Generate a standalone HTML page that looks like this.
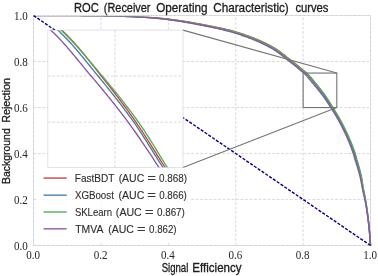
<!DOCTYPE html>
<html><head><meta charset="utf-8"><title>ROC curves</title>
<style>
html,body{margin:0;padding:0;background:#fff;}
svg{display:block;}
.s{font-family:"Liberation Sans",sans-serif;fill:#1c1c1c;stroke:#1c1c1c;stroke-width:0.32px;}
.l{fill:#2e2e2e;stroke:#2e2e2e;stroke-width:0.12px;}
.e{fill:#3a3a3a;stroke:none;}
.r{font-family:"Liberation Serif",serif;fill:#262626;}
</style></head><body>
<svg width="378" height="276" viewBox="0 0 378 276">
<rect width="378" height="276" fill="#fff"/>
<clipPath id="cm"><rect x="33.6" y="16.45" width="338.9" height="231.9"/></clipPath>
<clipPath id="ci"><rect x="47.8" y="30.1" width="135.2" height="137.5"/></clipPath>
<path d="M33.60,245.5 V15.6 M33.6,245.50 H370.5 M100.98,245.5 V15.6 M33.6,199.52 H370.5 M168.36,245.5 V15.6 M33.6,153.54 H370.5 M235.74,245.5 V15.6 M33.6,107.56 H370.5 M303.12,245.5 V15.6 M33.6,61.58 H370.5 M370.50,245.5 V15.6 M33.6,15.60 H370.5" fill="none" stroke="#d0d0d7" stroke-width="0.8" stroke-dasharray="2.8 1.7"/>
<rect x="33.6" y="15.6" width="336.9" height="229.9" fill="none" stroke="#cdcdd8" stroke-width="0.8" opacity="0.7"/>
<g clip-path="url(#cm)">
<path d="M33.60,15.60 L48.57,15.60 L55.37,15.60 L60.70,15.61 L65.26,15.62 L69.32,15.63 L73.02,15.64 L76.44,15.65 L79.65,15.67 L82.67,15.69 L85.55,15.71 L88.29,15.73 L90.93,15.76 L93.46,15.79 L95.91,15.82 L98.27,15.85 L100.57,15.89 L102.80,15.92 L104.97,15.95 L107.08,15.98 L109.15,16.01 L111.17,16.04 L113.15,16.07 L115.08,16.10 L116.98,16.13 L118.84,16.16 L120.67,16.19 L122.47,16.22 L124.23,16.26 L125.97,16.30 L127.68,16.34 L129.36,16.38 L131.02,16.43 L132.65,16.48 L134.26,16.54 L135.84,16.61 L137.40,16.68 L138.95,16.75 L140.47,16.83 L141.97,16.92 L143.45,17.01 L144.92,17.10 L146.37,17.20 L147.80,17.29 L149.22,17.39 L150.62,17.50 L152.01,17.60 L153.38,17.71 L154.74,17.82 L156.09,17.93 L157.42,18.05 L158.74,18.17 L160.05,18.29 L161.34,18.41 L162.63,18.54 L163.90,18.67 L165.16,18.80 L166.41,18.93 L167.65,19.07 L168.88,19.21 L170.09,19.35 L171.30,19.50 L172.50,19.65 L173.68,19.80 L174.86,19.96 L176.02,20.12 L177.18,20.28 L178.33,20.44 L179.47,20.61 L180.60,20.77 L181.73,20.93 L182.85,21.10 L183.95,21.27 L185.06,21.44 L186.15,21.62 L187.24,21.79 L188.31,21.97 L189.39,22.15 L190.45,22.33 L191.51,22.51 L192.56,22.70 L193.61,22.88 L194.64,23.07 L195.68,23.26 L196.70,23.45 L197.72,23.64 L198.74,23.83 L199.75,24.02 L200.75,24.21 L201.75,24.40 L202.74,24.59 L203.73,24.78 L204.72,24.97 L205.70,25.15 L206.68,25.34 L207.66,25.53 L208.63,25.71 L209.59,25.90 L210.55,26.08 L211.51,26.26 L212.46,26.45 L213.41,26.63 L214.35,26.82 L215.30,27.01 L216.23,27.19 L217.16,27.38 L218.09,27.57 L219.01,27.76 L219.93,27.96 L220.85,28.15 L221.76,28.35 L222.66,28.55 L223.56,28.75 L224.46,28.95 L225.35,29.16 L226.24,29.36 L227.12,29.58 L228.00,29.79 L228.88,30.01 L229.75,30.23 L230.61,30.45 L231.47,30.68 L232.33,30.91 L233.18,31.15 L234.03,31.39 L234.87,31.63 L235.71,31.88 L236.54,32.13 L237.37,32.39 L238.19,32.64 L239.01,32.90 L239.83,33.16 L240.65,33.42 L241.46,33.69 L242.27,33.95 L243.07,34.22 L243.88,34.49 L244.67,34.77 L245.47,35.04 L246.26,35.32 L247.05,35.60 L247.83,35.88 L248.61,36.16 L249.39,36.45 L250.17,36.73 L250.94,37.02 L251.71,37.32 L252.47,37.61 L253.23,37.91 L253.99,38.21 L254.74,38.51 L255.49,38.81 L256.24,39.12 L256.98,39.43 L257.72,39.74 L258.45,40.05 L259.19,40.37 L259.92,40.69 L260.64,41.01 L261.36,41.33 L262.08,41.66 L262.79,41.99 L263.50,42.32 L264.21,42.66 L264.91,43.00 L265.61,43.34 L266.31,43.68 L267.00,44.02 L267.69,44.37 L268.37,44.72 L269.05,45.08 L269.73,45.43 L270.40,45.79 L271.07,46.16 L271.74,46.52 L272.40,46.89 L273.06,47.26 L273.71,47.64 L274.36,48.02 L275.00,48.41 L275.64,48.81 L276.27,49.21 L276.89,49.62 L277.51,50.04 L278.13,50.46 L278.74,50.88 L279.34,51.32 L279.94,51.75 L280.54,52.19 L281.14,52.63 L281.73,53.08 L282.32,53.53 L282.90,53.98 L283.48,54.44 L284.06,54.89 L284.64,55.35 L285.22,55.80 L285.79,56.26 L286.36,56.72 L286.94,57.18 L287.51,57.63 L288.08,58.09 L288.65,58.54 L289.22,58.99 L289.78,59.44 L290.35,59.89 L290.92,60.33 L291.49,60.77 L292.06,61.21 L292.63,61.65 L293.20,62.08 L293.77,62.52 L294.33,62.96 L294.89,63.41 L295.45,63.85 L296.01,64.30 L296.57,64.75 L297.12,65.19 L297.67,65.65 L298.22,66.10 L298.77,66.55 L299.31,67.01 L299.86,67.47 L300.40,67.93 L300.94,68.39 L301.47,68.85 L302.01,69.32 L302.54,69.78 L303.09,70.23 L303.65,70.67 L304.21,71.10 L304.77,71.53 L305.32,71.96 L305.87,72.40 L306.39,72.86 L306.90,73.34 L307.40,73.83 L307.90,74.33 L308.38,74.83 L308.86,75.34 L309.34,75.86 L309.80,76.39 L310.27,76.91 L310.72,77.45 L311.18,77.99 L311.63,78.53 L312.07,79.08 L312.52,79.62 L312.96,80.17 L313.39,80.72 L313.83,81.28 L314.26,81.83 L314.70,82.38 L315.13,82.93 L315.56,83.48 L316.00,84.03 L316.43,84.58 L316.87,85.12 L317.30,85.67 L317.73,86.21 L318.16,86.76 L318.58,87.31 L319.01,87.86 L319.43,88.41 L319.85,88.96 L320.27,89.51 L320.69,90.07 L321.11,90.62 L321.52,91.18 L321.93,91.74 L322.34,92.29 L322.75,92.85 L323.15,93.42 L323.56,93.98 L323.96,94.54 L324.35,95.11 L324.75,95.68 L325.14,96.25 L325.53,96.82 L325.92,97.39 L326.30,97.97 L326.68,98.55 L327.06,99.13 L327.43,99.72 L327.80,100.30 L328.17,100.89 L328.54,101.47 L328.91,102.06 L329.27,102.65 L329.64,103.24 L330.00,103.82 L330.37,104.41 L330.73,104.99 L331.10,105.58 L331.47,106.16 L331.84,106.74 L332.21,107.32 L332.58,107.89 L332.95,108.47 L333.31,109.05 L333.68,109.63 L334.04,110.21 L334.41,110.79 L334.77,111.37 L335.13,111.96 L335.48,112.54 L335.84,113.13 L336.19,113.72 L336.55,114.31 L336.90,114.90 L337.24,115.49 L337.59,116.08 L337.94,116.68 L338.28,117.28 L338.62,117.87 L338.96,118.47 L339.30,119.07 L339.63,119.67 L339.97,120.28 L340.30,120.88 L340.63,121.48 L340.96,122.09 L341.28,122.70 L341.61,123.31 L341.93,123.92 L342.25,124.53 L342.57,125.14 L342.89,125.75 L343.20,126.37 L343.51,126.98 L343.83,127.60 L344.14,128.22 L344.44,128.84 L344.75,129.46 L345.05,130.08 L345.35,130.71 L345.65,131.33 L345.95,131.96 L346.25,132.58 L346.54,133.21 L346.83,133.84 L347.12,134.47 L347.41,135.10 L347.70,135.73 L347.98,136.37 L348.26,137.00 L348.54,137.64 L348.82,138.28 L349.10,138.92 L349.37,139.55 L349.64,140.20 L349.91,140.84 L350.18,141.48 L350.45,142.13 L350.71,142.77 L350.97,143.42 L351.23,144.06 L351.49,144.71 L351.74,145.36 L352.00,146.01 L352.25,146.67 L352.50,147.32 L352.74,147.97 L352.99,148.63 L353.23,149.29 L353.47,149.94 L353.71,150.60 L353.95,151.26 L354.18,151.92 L354.41,152.59 L354.64,153.25 L354.87,153.91 L355.07,154.59 L355.26,155.27 L355.45,155.96 L355.62,156.65 L355.79,157.34 L355.96,158.03 L356.14,158.72 L356.33,159.41 L356.53,160.08 L356.74,160.76 L356.94,161.43 L357.15,162.10 L357.35,162.78 L357.56,163.45 L357.76,164.13 L357.96,164.80 L358.16,165.48 L358.36,166.16 L358.55,166.84 L358.75,167.52 L358.94,168.20 L359.13,168.88 L359.32,169.56 L359.50,170.24 L359.69,170.93 L359.87,171.61 L360.05,172.30 L360.22,172.99 L360.40,173.68 L360.57,174.37 L360.73,175.07 L360.89,175.76 L361.04,176.46 L361.18,177.16 L361.32,177.86 L361.45,178.56 L361.58,179.26 L361.70,179.97 L361.82,180.67 L361.94,181.38 L362.05,182.08 L362.17,182.79 L362.28,183.50 L362.40,184.21 L362.51,184.92 L362.62,185.63 L362.74,186.34 L362.86,187.05 L362.98,187.76 L363.11,188.47 L363.24,189.18 L363.37,189.89 L363.51,190.60 L363.65,191.30 L363.80,192.01 L363.94,192.71 L364.09,193.41 L364.24,194.11 L364.39,194.81 L364.53,195.51 L364.68,196.21 L364.82,196.91 L364.97,197.61 L365.10,198.31 L365.24,199.02 L365.37,199.73 L365.50,200.44 L365.62,201.15 L365.75,201.86 L365.87,202.57 L365.99,203.28 L366.11,204.00 L366.22,204.71 L366.33,205.42 L366.44,206.14 L366.55,206.86 L366.66,207.57 L366.77,208.29 L366.87,209.01 L366.97,209.73 L367.08,210.45 L367.17,211.17 L367.27,211.89 L367.37,212.62 L367.46,213.34 L367.56,214.07 L367.65,214.79 L367.74,215.52 L367.83,216.25 L367.92,216.98 L368.01,217.70 L368.10,218.44 L368.19,219.17 L368.27,219.90 L368.36,220.63 L368.44,221.36 L368.52,222.10 L368.60,222.83 L368.68,223.57 L368.76,224.31 L368.84,225.04 L368.92,225.78 L368.99,226.52 L369.07,227.26 L369.14,228.00 L369.21,228.75 L369.28,229.49 L369.35,230.23 L369.42,230.98 L369.49,231.72 L369.56,232.47 L369.62,233.22 L369.69,233.97 L369.75,234.72 L369.81,235.47 L369.87,236.23 L369.93,236.98 L369.99,237.74 L370.05,238.50 L370.10,239.26 L370.16,240.02 L370.21,240.79 L370.26,241.56 L370.31,242.33 L370.36,243.11 L370.41,243.89 L370.45,244.68 L370.50,245.50" fill="none" stroke="#c8443f" stroke-width="1.4" stroke-linejoin="round"/>
<path d="M33.60,15.60 L48.57,15.60 L55.37,15.60 L60.70,15.61 L65.26,15.62 L69.32,15.63 L73.02,15.64 L76.44,15.65 L79.65,15.67 L82.67,15.69 L85.55,15.71 L88.29,15.73 L90.93,15.76 L93.46,15.79 L95.91,15.82 L98.27,15.85 L100.57,15.89 L102.80,15.92 L104.97,15.96 L107.08,15.99 L109.15,16.03 L111.17,16.06 L113.14,16.09 L115.07,16.13 L116.97,16.17 L118.83,16.21 L120.66,16.25 L122.45,16.29 L124.21,16.33 L125.95,16.38 L127.66,16.43 L129.34,16.48 L130.99,16.54 L132.62,16.59 L134.23,16.66 L135.81,16.73 L137.37,16.80 L138.91,16.88 L140.44,16.96 L141.94,17.05 L143.42,17.14 L144.89,17.23 L146.33,17.33 L147.77,17.44 L149.18,17.54 L150.58,17.65 L151.97,17.77 L153.34,17.88 L154.69,18.00 L156.03,18.13 L157.36,18.25 L158.68,18.38 L159.98,18.51 L161.27,18.65 L162.55,18.79 L163.82,18.92 L165.08,19.07 L166.32,19.21 L167.56,19.35 L168.78,19.50 L169.99,19.65 L171.19,19.81 L172.39,19.97 L173.57,20.13 L174.74,20.30 L175.90,20.47 L177.06,20.63 L178.20,20.80 L179.34,20.97 L180.47,21.15 L181.59,21.32 L182.70,21.49 L183.81,21.67 L184.90,21.85 L185.99,22.03 L187.07,22.22 L188.15,22.40 L189.21,22.59 L190.27,22.78 L191.33,22.97 L192.37,23.16 L193.41,23.35 L194.45,23.54 L195.48,23.74 L196.50,23.93 L197.52,24.12 L198.53,24.32 L199.54,24.51 L200.55,24.70 L201.54,24.89 L202.54,25.09 L203.53,25.28 L204.51,25.47 L205.49,25.66 L206.47,25.85 L207.44,26.04 L208.41,26.23 L209.37,26.42 L210.32,26.61 L211.28,26.80 L212.23,26.99 L213.17,27.18 L214.11,27.37 L215.04,27.57 L215.97,27.76 L216.90,27.96 L217.82,28.16 L218.74,28.36 L219.65,28.56 L220.56,28.76 L221.47,28.97 L222.37,29.17 L223.26,29.38 L224.15,29.59 L225.04,29.81 L225.92,30.02 L226.80,30.24 L227.67,30.46 L228.54,30.69 L229.40,30.91 L230.26,31.14 L231.12,31.38 L231.97,31.61 L232.82,31.85 L233.66,32.10 L234.50,32.35 L235.33,32.60 L236.16,32.85 L236.98,33.11 L237.80,33.37 L238.62,33.63 L239.44,33.90 L240.25,34.16 L241.06,34.43 L241.86,34.70 L242.66,34.97 L243.46,35.24 L244.25,35.52 L245.04,35.79 L245.83,36.07 L246.62,36.35 L247.40,36.64 L248.17,36.92 L248.95,37.21 L249.72,37.50 L250.48,37.79 L251.25,38.08 L252.01,38.38 L252.76,38.68 L253.52,38.98 L254.27,39.28 L255.01,39.59 L255.76,39.90 L256.49,40.21 L257.23,40.52 L257.96,40.84 L258.69,41.15 L259.42,41.47 L260.14,41.80 L260.86,42.12 L261.57,42.45 L262.28,42.78 L262.99,43.11 L263.69,43.45 L264.39,43.79 L265.09,44.13 L265.78,44.47 L266.47,44.82 L267.16,45.17 L267.84,45.52 L268.52,45.88 L269.20,46.23 L269.87,46.59 L270.54,46.96 L271.20,47.32 L271.86,47.69 L272.52,48.07 L273.17,48.44 L273.82,48.83 L274.46,49.22 L275.09,49.62 L275.72,50.02 L276.34,50.44 L276.95,50.85 L277.56,51.28 L278.17,51.70 L278.77,52.14 L279.37,52.57 L279.96,53.01 L280.56,53.46 L281.14,53.91 L281.73,54.36 L282.31,54.81 L282.89,55.26 L283.46,55.72 L284.04,56.17 L284.61,56.63 L285.18,57.09 L285.75,57.54 L286.32,58.00 L286.89,58.45 L287.46,58.91 L288.02,59.36 L288.59,59.81 L289.16,60.26 L289.73,60.70 L290.30,61.14 L290.87,61.58 L291.44,62.01 L292.01,62.45 L292.58,62.88 L293.15,63.32 L293.71,63.76 L294.27,64.21 L294.83,64.65 L295.38,65.10 L295.94,65.54 L296.49,65.99 L297.03,66.44 L297.58,66.90 L298.12,67.35 L298.67,67.81 L299.20,68.26 L299.74,68.72 L300.28,69.18 L300.81,69.65 L301.34,70.11 L301.89,70.55 L302.48,70.95 L303.08,71.32 L303.69,71.69 L304.30,72.06 L304.89,72.46 L305.44,72.89 L305.95,73.36 L306.46,73.85 L306.95,74.35 L307.44,74.85 L307.92,75.36 L308.40,75.87 L308.87,76.39 L309.33,76.92 L309.79,77.45 L310.25,77.98 L310.70,78.52 L311.15,79.06 L311.60,79.60 L312.04,80.14 L312.48,80.69 L312.92,81.23 L313.36,81.78 L313.80,82.32 L314.24,82.87 L314.68,83.41 L315.11,83.95 L315.55,84.49 L315.99,85.03 L316.43,85.56 L316.87,86.10 L317.31,86.64 L317.74,87.18 L318.17,87.72 L318.61,88.26 L319.04,88.80 L319.46,89.35 L319.89,89.89 L320.31,90.44 L320.74,90.98 L321.16,91.53 L321.57,92.08 L321.99,92.63 L322.40,93.19 L322.81,93.74 L323.22,94.30 L323.62,94.86 L324.02,95.42 L324.42,95.98 L324.82,96.55 L325.21,97.12 L325.59,97.69 L325.98,98.27 L326.35,98.85 L326.73,99.43 L327.10,100.01 L327.47,100.60 L327.84,101.18 L328.21,101.77 L328.57,102.36 L328.93,102.95 L329.30,103.53 L329.66,104.12 L330.02,104.71 L330.39,105.29 L330.75,105.87 L331.12,106.45 L331.49,107.03 L331.86,107.61 L332.22,108.18 L332.59,108.76 L332.96,109.34 L333.32,109.92 L333.69,110.50 L334.05,111.08 L334.41,111.66 L334.76,112.25 L335.12,112.83 L335.47,113.42 L335.83,114.01 L336.18,114.60 L336.52,115.19 L336.87,115.78 L337.22,116.37 L337.56,116.96 L337.90,117.56 L338.24,118.16 L338.58,118.75 L338.92,119.35 L339.25,119.95 L339.59,120.55 L339.92,121.16 L340.25,121.76 L340.57,122.36 L340.90,122.97 L341.22,123.58 L341.55,124.19 L341.87,124.80 L342.18,125.41 L342.50,126.02 L342.81,126.63 L343.13,127.25 L343.44,127.86 L343.75,128.48 L344.05,129.10 L344.36,129.72 L344.66,130.34 L344.96,130.96 L345.26,131.59 L345.56,132.21 L345.85,132.84 L346.15,133.46 L346.44,134.09 L346.73,134.72 L347.01,135.35 L347.30,135.98 L347.58,136.61 L347.86,137.25 L348.14,137.88 L348.42,138.52 L348.69,139.16 L348.97,139.80 L349.24,140.44 L349.51,141.08 L349.77,141.72 L350.04,142.36 L350.30,143.01 L350.56,143.65 L350.82,144.30 L351.07,144.95 L351.33,145.60 L351.58,146.25 L351.83,146.90 L352.08,147.55 L352.32,148.20 L352.56,148.86 L352.81,149.52 L353.04,150.17 L353.28,150.83 L353.51,151.49 L353.75,152.15 L353.98,152.81 L354.20,153.48 L354.42,154.14 L354.62,154.82 L354.81,155.50 L354.99,156.19 L355.16,156.87 L355.34,157.56 L355.52,158.25 L355.70,158.93 L355.90,159.61 L356.11,160.29 L356.32,160.96 L356.53,161.63 L356.74,162.30 L356.95,162.97 L357.16,163.65 L357.36,164.32 L357.57,164.99 L357.77,165.66 L357.97,166.34 L358.17,167.01 L358.36,167.68 L358.56,168.36 L358.75,169.04 L358.94,169.71 L359.13,170.39 L359.32,171.08 L359.50,171.76 L359.68,172.44 L359.86,173.13 L360.04,173.82 L360.22,174.51 L360.39,175.20 L360.55,175.90 L360.70,176.59 L360.85,177.29 L361.00,177.99 L361.13,178.69 L361.27,179.38 L361.40,180.08 L361.53,180.79 L361.65,181.49 L361.77,182.19 L361.89,182.89 L362.01,183.60 L362.13,184.30 L362.25,185.01 L362.37,185.71 L362.49,186.42 L362.61,187.13 L362.74,187.84 L362.86,188.55 L363.00,189.25 L363.13,189.96 L363.27,190.67 L363.42,191.38 L363.57,192.08 L363.72,192.78 L363.87,193.47 L364.03,194.17 L364.19,194.87 L364.34,195.56 L364.50,196.26 L364.65,196.95 L364.80,197.65 L364.95,198.35 L365.09,199.06 L365.23,199.76 L365.36,200.47 L365.49,201.18 L365.62,201.89 L365.74,202.60 L365.87,203.31 L365.99,204.02 L366.11,204.73 L366.22,205.45 L366.34,206.16 L366.45,206.88 L366.56,207.59 L366.67,208.31 L366.78,209.03 L366.89,209.75 L366.99,210.47 L367.09,211.19 L367.19,211.91 L367.29,212.63 L367.39,213.35 L367.49,214.08 L367.59,214.80 L367.68,215.53 L367.78,216.26 L367.87,216.98 L367.96,217.71 L368.05,218.44 L368.14,219.17 L368.23,219.90 L368.32,220.64 L368.40,221.37 L368.49,222.10 L368.57,222.84 L368.66,223.57 L368.74,224.31 L368.82,225.05 L368.90,225.78 L368.97,226.52 L369.05,227.26 L369.13,228.00 L369.20,228.75 L369.27,229.49 L369.34,230.23 L369.41,230.98 L369.48,231.72 L369.55,232.47 L369.62,233.22 L369.68,233.97 L369.75,234.72 L369.81,235.47 L369.87,236.23 L369.93,236.98 L369.99,237.74 L370.05,238.50 L370.10,239.26 L370.16,240.02 L370.21,240.79 L370.26,241.56 L370.31,242.33 L370.36,243.11 L370.41,243.89 L370.45,244.68 L370.50,245.50" fill="none" stroke="#467ca6" stroke-width="1.4" stroke-linejoin="round"/>
<path d="M33.60,15.60 L48.57,15.60 L55.37,15.60 L60.70,15.61 L65.26,15.62 L69.32,15.63 L73.02,15.64 L76.44,15.65 L79.65,15.67 L82.67,15.69 L85.55,15.71 L88.29,15.73 L90.93,15.76 L93.46,15.79 L95.91,15.82 L98.27,15.85 L100.57,15.89 L102.80,15.92 L104.97,15.95 L107.08,15.99 L109.15,16.02 L111.17,16.05 L113.14,16.08 L115.08,16.11 L116.98,16.14 L118.84,16.17 L120.67,16.21 L122.46,16.24 L124.23,16.28 L125.96,16.32 L127.67,16.37 L129.35,16.41 L131.01,16.46 L132.64,16.52 L134.25,16.58 L135.83,16.64 L137.39,16.72 L138.94,16.79 L140.46,16.87 L141.96,16.96 L143.44,17.05 L144.91,17.14 L146.36,17.24 L147.79,17.34 L149.21,17.44 L150.61,17.55 L152.00,17.66 L153.37,17.77 L154.73,17.88 L156.07,18.00 L157.40,18.12 L158.72,18.24 L160.03,18.36 L161.32,18.49 L162.60,18.62 L163.87,18.75 L165.13,18.89 L166.38,19.02 L167.62,19.16 L168.85,19.30 L170.06,19.45 L171.27,19.60 L172.46,19.75 L173.64,19.91 L174.82,20.07 L175.98,20.23 L177.14,20.40 L178.29,20.56 L179.43,20.73 L180.56,20.89 L181.68,21.06 L182.80,21.23 L183.91,21.40 L185.01,21.58 L186.10,21.75 L187.18,21.93 L188.26,22.11 L189.33,22.29 L190.39,22.48 L191.45,22.66 L192.50,22.85 L193.54,23.03 L194.58,23.22 L195.61,23.41 L196.64,23.60 L197.66,23.79 L198.67,23.99 L199.68,24.18 L200.68,24.37 L201.68,24.56 L202.68,24.75 L203.67,24.94 L204.65,25.13 L205.64,25.32 L206.61,25.50 L207.59,25.69 L208.55,25.88 L209.52,26.06 L210.48,26.25 L211.43,26.44 L212.39,26.62 L213.33,26.81 L214.28,27.00 L215.21,27.19 L216.15,27.38 L217.08,27.57 L218.00,27.76 L218.92,27.96 L219.84,28.15 L220.75,28.35 L221.66,28.55 L222.57,28.75 L223.46,28.95 L224.36,29.16 L225.25,29.37 L226.14,29.58 L227.02,29.79 L227.90,30.01 L228.77,30.23 L229.64,30.45 L230.50,30.68 L231.36,30.91 L232.21,31.14 L233.06,31.38 L233.91,31.62 L234.75,31.86 L235.58,32.11 L236.41,32.37 L237.24,32.62 L238.07,32.88 L238.89,33.14 L239.70,33.40 L240.52,33.66 L241.33,33.93 L242.14,34.20 L242.94,34.46 L243.74,34.74 L244.54,35.01 L245.33,35.28 L246.12,35.56 L246.91,35.84 L247.69,36.12 L248.47,36.41 L249.25,36.69 L250.02,36.98 L250.79,37.27 L251.56,37.57 L252.32,37.86 L253.08,38.16 L253.83,38.46 L254.59,38.76 L255.34,39.06 L256.08,39.37 L256.82,39.68 L257.56,39.99 L258.30,40.31 L259.03,40.62 L259.75,40.94 L260.48,41.27 L261.20,41.59 L261.91,41.92 L262.63,42.25 L263.34,42.58 L264.04,42.91 L264.75,43.25 L265.44,43.59 L266.14,43.94 L266.83,44.28 L267.52,44.63 L268.20,44.98 L268.88,45.34 L269.56,45.69 L270.23,46.05 L270.90,46.42 L271.56,46.78 L272.23,47.15 L272.88,47.52 L273.54,47.90 L274.18,48.28 L274.82,48.67 L275.46,49.07 L276.09,49.47 L276.71,49.88 L277.33,50.30 L277.94,50.72 L278.55,51.15 L279.16,51.58 L279.76,52.02 L280.36,52.46 L280.95,52.90 L281.54,53.35 L282.12,53.80 L282.71,54.25 L283.29,54.70 L283.87,55.16 L284.45,55.62 L285.02,56.07 L285.59,56.53 L286.17,56.99 L286.74,57.44 L287.31,57.90 L287.88,58.35 L288.44,58.81 L289.01,59.26 L289.58,59.71 L290.15,60.15 L290.72,60.60 L291.29,61.03 L291.86,61.47 L292.43,61.91 L293.00,62.34 L293.57,62.78 L294.13,63.22 L294.69,63.67 L295.25,64.11 L295.81,64.56 L296.36,65.00 L296.91,65.45 L297.46,65.90 L298.01,66.36 L298.56,66.81 L299.10,67.27 L299.64,67.73 L300.18,68.19 L300.72,68.65 L301.26,69.11 L301.79,69.57 L302.33,70.03 L302.89,70.46 L303.47,70.88 L304.05,71.28 L304.64,71.68 L305.21,72.09 L305.77,72.51 L306.30,72.97 L306.81,73.45 L307.31,73.93 L307.81,74.43 L308.30,74.93 L308.79,75.43 L309.27,75.94 L309.74,76.46 L310.21,76.97 L310.68,77.50 L311.15,78.02 L311.61,78.55 L312.07,79.08 L312.52,79.62 L312.98,80.15 L313.43,80.69 L313.88,81.23 L314.33,81.76 L314.77,82.30 L315.22,82.84 L315.67,83.38 L316.11,83.91 L316.56,84.45 L317.00,84.98 L317.45,85.51 L317.89,86.05 L318.33,86.58 L318.77,87.12 L319.21,87.65 L319.65,88.19 L320.09,88.73 L320.52,89.27 L320.95,89.81 L321.38,90.36 L321.81,90.90 L322.23,91.45 L322.65,91.99 L323.07,92.54 L323.49,93.10 L323.90,93.65 L324.32,94.21 L324.72,94.76 L325.13,95.32 L325.53,95.89 L325.93,96.45 L326.32,97.02 L326.71,97.60 L327.09,98.18 L327.47,98.76 L327.85,99.34 L328.22,99.93 L328.59,100.52 L328.95,101.11 L329.31,101.70 L329.68,102.30 L330.04,102.89 L330.40,103.48 L330.76,104.07 L331.12,104.66 L331.48,105.25 L331.84,105.84 L332.21,106.42 L332.58,107.00 L332.95,107.58 L333.32,108.16 L333.69,108.74 L334.06,109.32 L334.43,109.90 L334.79,110.48 L335.15,111.06 L335.52,111.65 L335.87,112.24 L336.23,112.82 L336.59,113.41 L336.94,114.00 L337.29,114.59 L337.64,115.19 L337.99,115.78 L338.34,116.38 L338.68,116.97 L339.02,117.57 L339.36,118.17 L339.70,118.77 L340.04,119.38 L340.37,119.98 L340.70,120.58 L341.04,121.19 L341.36,121.80 L341.69,122.41 L342.02,123.02 L342.34,123.63 L342.66,124.24 L342.98,124.85 L343.30,125.47 L343.61,126.08 L343.93,126.70 L344.24,127.32 L344.55,127.94 L344.86,128.56 L345.16,129.18 L345.47,129.81 L345.77,130.43 L346.07,131.06 L346.37,131.68 L346.67,132.31 L346.96,132.94 L347.25,133.57 L347.54,134.20 L347.83,134.84 L348.12,135.47 L348.40,136.11 L348.69,136.74 L348.97,137.38 L349.25,138.02 L349.52,138.66 L349.80,139.30 L350.07,139.94 L350.34,140.58 L350.61,141.23 L350.88,141.87 L351.14,142.52 L351.41,143.17 L351.67,143.81 L351.93,144.46 L352.18,145.11 L352.44,145.77 L352.69,146.42 L352.94,147.07 L353.19,147.73 L353.44,148.38 L353.68,149.04 L353.93,149.70 L354.17,150.36 L354.41,151.02 L354.64,151.68 L354.88,152.34 L355.11,153.00 L355.34,153.67 L355.55,154.34 L355.75,155.03 L355.93,155.72 L356.10,156.41 L356.27,157.11 L356.44,157.80 L356.61,158.50 L356.79,159.18 L356.99,159.86 L357.19,160.54 L357.39,161.22 L357.59,161.89 L357.79,162.57 L357.99,163.25 L358.19,163.93 L358.38,164.61 L358.58,165.29 L358.77,165.97 L358.97,166.65 L359.16,167.34 L359.35,168.02 L359.53,168.71 L359.72,169.39 L359.90,170.08 L360.08,170.77 L360.26,171.46 L360.43,172.15 L360.61,172.84 L360.77,173.53 L360.94,174.23 L361.10,174.92 L361.25,175.62 L361.39,176.32 L361.53,177.02 L361.66,177.72 L361.79,178.43 L361.91,179.13 L362.02,179.84 L362.14,180.55 L362.25,181.26 L362.36,181.97 L362.47,182.69 L362.57,183.40 L362.68,184.11 L362.79,184.82 L362.90,185.54 L363.01,186.25 L363.13,186.96 L363.25,187.68 L363.37,188.39 L363.50,189.10 L363.63,189.81 L363.77,190.52 L363.90,191.23 L364.04,191.93 L364.18,192.64 L364.32,193.34 L364.46,194.04 L364.60,194.75 L364.74,195.45 L364.87,196.15 L365.01,196.86 L365.14,197.56 L365.27,198.27 L365.40,198.98 L365.52,199.69 L365.65,200.40 L365.77,201.11 L365.89,201.82 L366.00,202.54 L366.12,203.25 L366.23,203.97 L366.34,204.68 L366.45,205.40 L366.56,206.12 L366.66,206.83 L366.77,207.55 L366.87,208.27 L366.97,208.99 L367.07,209.71 L367.17,210.43 L367.26,211.16 L367.36,211.88 L367.45,212.60 L367.54,213.33 L367.63,214.06 L367.72,214.78 L367.81,215.51 L367.90,216.24 L367.98,216.97 L368.07,217.70 L368.15,218.43 L368.23,219.16 L368.31,219.89 L368.39,220.62 L368.47,221.36 L368.55,222.09 L368.63,222.83 L368.71,223.57 L368.79,224.30 L368.86,225.04 L368.94,225.78 L369.01,226.52 L369.08,227.26 L369.15,228.00 L369.23,228.74 L369.30,229.49 L369.36,230.23 L369.43,230.98 L369.50,231.72 L369.56,232.47 L369.63,233.22 L369.69,233.97 L369.75,234.72 L369.81,235.47 L369.87,236.23 L369.93,236.98 L369.99,237.74 L370.05,238.50 L370.10,239.26 L370.16,240.03 L370.21,240.79 L370.26,241.56 L370.31,242.33 L370.36,243.11 L370.41,243.89 L370.45,244.68 L370.50,245.50" fill="none" stroke="#5aa85c" stroke-width="1.4" stroke-linejoin="round"/>
<path d="M33.60,15.60 L48.57,15.60 L55.37,15.60 L60.70,15.61 L65.26,15.62 L69.32,15.63 L73.02,15.64 L76.44,15.65 L79.65,15.67 L82.67,15.69 L85.55,15.71 L88.29,15.73 L90.93,15.76 L93.46,15.79 L95.91,15.82 L98.27,15.85 L100.57,15.89 L102.80,15.92 L104.96,15.96 L107.08,15.99 L109.14,16.03 L111.16,16.07 L113.14,16.11 L115.07,16.15 L116.96,16.19 L118.82,16.24 L120.65,16.28 L122.44,16.33 L124.20,16.38 L125.93,16.43 L127.64,16.49 L129.32,16.55 L130.97,16.61 L132.60,16.67 L134.21,16.74 L135.79,16.81 L137.35,16.89 L138.89,16.97 L140.41,17.05 L141.91,17.14 L143.40,17.23 L144.86,17.33 L146.31,17.43 L147.74,17.54 L149.15,17.65 L150.55,17.76 L151.93,17.88 L153.30,18.01 L154.65,18.13 L155.99,18.26 L157.32,18.40 L158.63,18.53 L159.93,18.67 L161.22,18.81 L162.50,18.96 L163.76,19.11 L165.02,19.25 L166.26,19.40 L167.49,19.55 L168.71,19.71 L169.92,19.87 L171.12,20.03 L172.31,20.19 L173.49,20.36 L174.66,20.53 L175.82,20.71 L176.97,20.88 L178.11,21.06 L179.25,21.23 L180.37,21.41 L181.49,21.59 L182.60,21.77 L183.70,21.95 L184.79,22.14 L185.88,22.32 L186.96,22.51 L188.03,22.71 L189.09,22.90 L190.15,23.09 L191.20,23.29 L192.24,23.49 L193.28,23.68 L194.31,23.88 L195.34,24.08 L196.36,24.27 L197.38,24.47 L198.39,24.66 L199.40,24.86 L200.40,25.05 L201.40,25.24 L202.39,25.43 L203.38,25.62 L204.37,25.82 L205.34,26.01 L206.32,26.20 L207.29,26.39 L208.25,26.59 L209.21,26.78 L210.16,26.98 L211.11,27.17 L212.06,27.37 L213.00,27.56 L213.94,27.76 L214.87,27.96 L215.79,28.16 L216.72,28.36 L217.63,28.57 L218.55,28.77 L219.46,28.98 L220.36,29.19 L221.26,29.40 L222.16,29.61 L223.05,29.83 L223.93,30.04 L224.82,30.26 L225.69,30.48 L226.57,30.71 L227.44,30.93 L228.30,31.16 L229.16,31.39 L230.02,31.63 L230.87,31.87 L231.72,32.11 L232.56,32.35 L233.40,32.60 L234.23,32.85 L235.06,33.11 L235.89,33.36 L236.71,33.62 L237.53,33.88 L238.35,34.15 L239.16,34.41 L239.97,34.68 L240.77,34.95 L241.57,35.22 L242.37,35.49 L243.17,35.77 L243.96,36.04 L244.74,36.32 L245.53,36.60 L246.31,36.88 L247.09,37.17 L247.86,37.46 L248.63,37.74 L249.40,38.04 L250.16,38.33 L250.92,38.62 L251.68,38.92 L252.44,39.22 L253.19,39.52 L253.93,39.83 L254.68,40.14 L255.42,40.44 L256.15,40.76 L256.89,41.07 L257.62,41.39 L258.34,41.71 L259.06,42.03 L259.78,42.35 L260.50,42.68 L261.21,43.01 L261.92,43.34 L262.63,43.67 L263.33,44.01 L264.03,44.35 L264.72,44.69 L265.42,45.03 L266.10,45.38 L266.79,45.73 L267.47,46.08 L268.15,46.44 L268.82,46.80 L269.49,47.16 L270.16,47.52 L270.82,47.89 L271.48,48.26 L272.14,48.63 L272.79,49.01 L273.44,49.39 L274.07,49.79 L274.70,50.19 L275.33,50.59 L275.95,51.01 L276.56,51.43 L277.17,51.85 L277.78,52.28 L278.38,52.71 L278.97,53.15 L279.57,53.59 L280.16,54.04 L280.74,54.49 L281.32,54.94 L281.90,55.39 L282.48,55.84 L283.05,56.30 L283.62,56.75 L284.19,57.21 L284.76,57.67 L285.33,58.12 L285.90,58.58 L286.46,59.03 L287.03,59.48 L287.60,59.93 L288.16,60.38 L288.73,60.83 L289.30,61.27 L289.87,61.71 L290.44,62.14 L291.01,62.57 L291.57,63.01 L292.14,63.45 L292.70,63.88 L293.26,64.32 L293.82,64.77 L294.37,65.21 L294.93,65.66 L295.48,66.10 L296.03,66.55 L296.57,67.00 L297.12,67.46 L297.66,67.91 L298.20,68.37 L298.74,68.82 L299.27,69.28 L299.81,69.74 L300.34,70.21 L300.87,70.67 L301.41,71.11 L301.96,71.55 L302.52,71.98 L303.06,72.42 L303.60,72.87 L304.12,73.34 L304.62,73.83 L305.12,74.32 L305.61,74.82 L306.09,75.32 L306.57,75.84 L307.04,76.35 L307.51,76.88 L307.97,77.40 L308.42,77.93 L308.88,78.47 L309.32,79.01 L309.77,79.54 L310.21,80.08 L310.66,80.63 L311.10,81.17 L311.54,81.71 L311.98,82.25 L312.42,82.79 L312.86,83.32 L313.30,83.85 L313.74,84.38 L314.19,84.91 L314.63,85.44 L315.08,85.97 L315.52,86.49 L315.96,87.02 L316.40,87.55 L316.84,88.09 L317.27,88.62 L317.71,89.15 L318.14,89.69 L318.57,90.22 L319.00,90.76 L319.43,91.30 L319.85,91.84 L320.28,92.38 L320.70,92.92 L321.12,93.47 L321.53,94.01 L321.95,94.56 L322.36,95.11 L322.77,95.66 L323.17,96.21 L323.58,96.77 L323.98,97.33 L324.38,97.88 L324.77,98.45 L325.16,99.01 L325.56,99.57 L325.94,100.14 L326.33,100.70 L326.72,101.27 L327.10,101.84 L327.48,102.41 L327.86,102.98 L328.24,103.55 L328.61,104.13 L328.99,104.70 L329.36,105.27 L329.74,105.84 L330.11,106.42 L330.48,106.99 L330.85,107.56 L331.22,108.14 L331.59,108.71 L331.95,109.29 L332.32,109.87 L332.68,110.45 L333.04,111.03 L333.40,111.61 L333.76,112.19 L334.12,112.77 L334.47,113.36 L334.82,113.94 L335.17,114.53 L335.52,115.11 L335.87,115.70 L336.22,116.29 L336.56,116.88 L336.90,117.48 L337.24,118.07 L337.58,118.67 L337.92,119.26 L338.25,119.86 L338.59,120.46 L338.92,121.06 L339.25,121.66 L339.58,122.26 L339.90,122.86 L340.23,123.46 L340.55,124.07 L340.87,124.68 L341.19,125.28 L341.50,125.89 L341.82,126.50 L342.13,127.11 L342.44,127.73 L342.75,128.34 L343.06,128.96 L343.36,129.57 L343.66,130.19 L343.97,130.81 L344.26,131.43 L344.56,132.05 L344.86,132.67 L345.15,133.29 L345.44,133.92 L345.73,134.54 L346.02,135.17 L346.30,135.80 L346.58,136.43 L346.87,137.06 L347.14,137.69 L347.42,138.32 L347.70,138.96 L347.97,139.59 L348.24,140.23 L348.51,140.87 L348.77,141.51 L349.04,142.15 L349.30,142.79 L349.56,143.43 L349.81,144.08 L350.07,144.72 L350.32,145.37 L350.57,146.02 L350.82,146.67 L351.07,147.32 L351.31,147.97 L351.56,148.62 L351.80,149.27 L352.03,149.93 L352.27,150.59 L352.50,151.24 L352.73,151.90 L352.96,152.56 L353.19,153.23 L353.41,153.89 L353.62,154.56 L353.82,155.23 L354.00,155.91 L354.18,156.59 L354.36,157.27 L354.54,157.95 L354.73,158.63 L354.92,159.31 L355.13,159.98 L355.34,160.66 L355.56,161.33 L355.78,162.00 L355.99,162.66 L356.21,163.33 L356.42,164.00 L356.64,164.67 L356.85,165.33 L357.06,166.00 L357.27,166.66 L357.47,167.33 L357.68,168.00 L357.88,168.67 L358.08,169.34 L358.28,170.01 L358.47,170.68 L358.67,171.35 L358.86,172.03 L359.05,172.71 L359.23,173.39 L359.41,174.07 L359.59,174.76 L359.76,175.45 L359.93,176.13 L360.09,176.82 L360.25,177.52 L360.40,178.21 L360.55,178.90 L360.70,179.60 L360.84,180.29 L360.98,180.99 L361.11,181.69 L361.25,182.38 L361.38,183.08 L361.51,183.78 L361.64,184.48 L361.77,185.18 L361.90,185.88 L362.03,186.58 L362.16,187.29 L362.29,187.99 L362.43,188.69 L362.56,189.39 L362.70,190.10 L362.84,190.80 L362.99,191.49 L363.15,192.19 L363.32,192.88 L363.48,193.58 L363.66,194.27 L363.83,194.96 L364.00,195.65 L364.17,196.34 L364.34,197.03 L364.51,197.73 L364.67,198.42 L364.82,199.12 L364.97,199.83 L365.11,200.53 L365.25,201.24 L365.39,201.94 L365.52,202.65 L365.65,203.36 L365.78,204.07 L365.91,204.78 L366.03,205.49 L366.15,206.20 L366.27,206.92 L366.39,207.63 L366.50,208.34 L366.62,209.06 L366.73,209.78 L366.84,210.49 L366.95,211.21 L367.06,211.93 L367.16,212.65 L367.27,213.37 L367.37,214.10 L367.47,214.82 L367.57,215.55 L367.67,216.27 L367.77,217.00 L367.87,217.73 L367.97,218.46 L368.06,219.19 L368.15,219.92 L368.25,220.65 L368.34,221.38 L368.43,222.11 L368.52,222.85 L368.60,223.58 L368.69,224.32 L368.77,225.05 L368.86,225.79 L368.94,226.53 L369.02,227.27 L369.10,228.01 L369.17,228.75 L369.25,229.49 L369.32,230.23 L369.40,230.98 L369.47,231.72 L369.54,232.47 L369.60,233.22 L369.67,233.97 L369.74,234.72 L369.80,235.47 L369.86,236.22 L369.92,236.98 L369.98,237.74 L370.04,238.50 L370.10,239.26 L370.15,240.02 L370.21,240.79 L370.26,241.56 L370.31,242.33 L370.36,243.11 L370.41,243.89 L370.45,244.68 L370.50,245.50" fill="none" stroke="#8a58a2" stroke-width="1.4" stroke-linejoin="round"/>
</g>
<path d="M33.6,15.6 L370.5,245.5" stroke="#000080" stroke-width="1.4" stroke-dasharray="3.1 1.5" fill="none"/>
<rect x="303.12" y="73.07" width="33.69" height="34.49" fill="none" stroke="#747474" stroke-width="1.12"/>
<path d="M183.0,30.1 L336.81,73.07 M183.0,167.6 L336.81,107.56" fill="none" stroke="#747474" stroke-width="1.12"/>
<rect x="47.8" y="30.1" width="135.2" height="137.5" fill="#fff"/>
<path d="M114.9,167.6 V30.1 M47.8,76.1 H183.0 M47.8,122.2 H183.0" fill="none" stroke="#d0d0d7" stroke-width="0.8" stroke-dasharray="2.8 1.7"/>
<g clip-path="url(#ci)">
<path d="M21.50,-3.11 L23.72,-1.32 L25.93,0.48 L28.14,2.28 L30.33,4.10 L32.52,5.92 L34.70,7.74 L36.87,9.57 L39.03,11.41 L41.19,13.26 L43.34,15.11 L45.48,16.96 L47.68,18.75 L49.91,20.49 L52.16,22.21 L54.41,23.92 L56.64,25.65 L58.82,27.42 L60.94,29.25 L62.98,31.16 L64.99,33.11 L66.97,35.09 L68.92,37.10 L70.85,39.14 L72.75,41.21 L74.63,43.30 L76.48,45.41 L78.32,47.54 L80.14,49.69 L81.94,51.85 L83.73,54.02 L85.51,56.21 L87.27,58.40 L89.03,60.60 L90.78,62.80 L92.52,65.00 L94.26,67.20 L96.00,69.40 L97.74,71.60 L99.48,73.78 L101.22,75.96 L102.96,78.13 L104.70,80.30 L106.43,82.48 L108.15,84.66 L109.86,86.85 L111.57,89.04 L113.27,91.24 L114.96,93.44 L116.64,95.64 L118.32,97.85 L119.98,100.06 L121.64,102.28 L123.29,104.50 L124.94,106.73 L126.57,108.97 L128.20,111.21 L129.81,113.45 L131.42,115.70 L133.02,117.96 L134.61,120.22 L136.18,122.49 L137.75,124.77 L139.29,127.07 L140.83,129.37 L142.35,131.68 L143.86,134.00 L145.36,136.33 L146.85,138.66 L148.34,140.99 L149.82,143.33 L151.29,145.67 L152.76,148.02 L154.22,150.36 L155.69,152.70 L157.15,155.03 L158.62,157.36 L160.09,159.69 L161.56,162.01 L163.04,164.32 L164.52,166.63 L166.01,168.92 L167.50,171.22 L168.97,173.53 L170.44,175.84 L171.90,178.15 L173.36,180.47 L174.81,182.80 L176.25,185.13 L177.68,187.47 L179.11,189.81 L180.53,192.15 L181.94,194.51 L183.35,196.86 L184.74,199.22 L186.13,201.59 L187.52,203.96 L188.89,206.34 L190.26,208.72 L191.62,211.11 L192.98,213.50 L194.33,215.90 L195.67,218.30 L197.00,220.71 L198.32,223.12 L199.64,225.54 L200.95,227.96 L202.25,230.38 L203.55,232.82 L204.83,235.25 L206.11,237.69 L207.39,240.14 L208.65,242.59 L209.91,245.05" fill="none" stroke="#c8443f" stroke-width="1.35"/>
<path d="M21.18,1.86 L23.38,3.66 L25.57,5.46 L27.75,7.28 L29.92,9.09 L32.09,10.92 L34.24,12.75 L36.39,14.59 L38.52,16.43 L40.65,18.28 L42.86,20.03 L45.21,21.62 L47.65,23.12 L50.10,24.58 L52.54,26.06 L54.89,27.64 L57.11,29.36 L59.17,31.25 L61.18,33.19 L63.17,35.16 L65.13,37.17 L67.07,39.19 L68.98,41.24 L70.86,43.32 L72.73,45.41 L74.58,47.52 L76.41,49.65 L78.23,51.79 L80.03,53.95 L81.82,56.11 L83.60,58.28 L85.37,60.45 L87.14,62.63 L88.90,64.80 L90.66,66.98 L92.41,69.15 L94.17,71.31 L95.93,73.47 L97.70,75.62 L99.46,77.75 L101.22,79.90 L102.98,82.04 L104.73,84.19 L106.48,86.34 L108.22,88.49 L109.95,90.65 L111.67,92.81 L113.39,94.97 L115.10,97.14 L116.80,99.32 L118.49,101.50 L120.18,103.69 L121.85,105.88 L123.52,108.08 L125.17,110.29 L126.82,112.50 L128.45,114.73 L130.08,116.96 L131.69,119.19 L133.29,121.44 L134.87,123.70 L136.44,125.97 L137.99,128.26 L139.52,130.56 L141.04,132.87 L142.54,135.19 L144.04,137.51 L145.52,139.84 L147.00,142.18 L148.47,144.52 L149.94,146.86 L151.40,149.20 L152.85,151.55 L154.31,153.88 L155.77,156.22 L157.23,158.55 L158.69,160.87 L160.16,163.19 L161.63,165.50 L163.12,167.79 L164.60,170.09 L166.07,172.39 L167.54,174.69 L169.00,177.00 L170.46,179.31 L171.91,181.63 L173.35,183.96 L174.78,186.29 L176.21,188.62 L177.63,190.96 L179.05,193.30 L180.46,195.65 L181.86,198.00 L183.25,200.36 L184.64,202.73 L186.01,205.10 L187.39,207.47 L188.75,209.85 L190.11,212.23 L191.46,214.62 L192.80,217.01 L194.14,219.41 L195.47,221.81 L196.79,224.22 L198.10,226.63 L199.41,229.05 L200.71,231.47 L202.00,233.90 L203.29,236.33 L204.56,238.77 L205.83,241.21 L207.09,243.65 L208.35,246.10 L209.60,248.56" fill="none" stroke="#467ca6" stroke-width="1.35"/>
<path d="M22.89,-0.29 L25.10,1.51 L27.30,3.32 L29.49,5.13 L31.68,6.95 L33.85,8.77 L36.02,10.60 L38.17,12.44 L40.32,14.29 L42.47,16.14 L44.62,17.97 L46.87,19.69 L49.19,21.33 L51.54,22.93 L53.88,24.53 L56.19,26.15 L58.44,27.85 L60.57,29.66 L62.61,31.58 L64.63,33.52 L66.62,35.49 L68.59,37.48 L70.54,39.50 L72.46,41.53 L74.38,43.58 L76.27,45.65 L78.15,47.73 L80.02,49.83 L81.87,51.94 L83.71,54.05 L85.54,56.18 L87.36,58.32 L89.17,60.45 L90.98,62.60 L92.78,64.74 L94.57,66.89 L96.36,69.03 L98.15,71.17 L99.94,73.31 L101.73,75.44 L103.52,77.56 L105.30,79.69 L107.08,81.82 L108.86,83.95 L110.62,86.09 L112.38,88.23 L114.14,90.37 L115.88,92.52 L117.62,94.68 L119.35,96.84 L121.07,99.00 L122.79,101.17 L124.49,103.35 L126.18,105.54 L127.87,107.73 L129.54,109.93 L131.21,112.14 L132.86,114.35 L134.50,116.58 L136.13,118.81 L137.74,121.06 L139.34,123.31 L140.92,125.59 L142.47,127.88 L144.01,130.19 L145.53,132.51 L147.03,134.84 L148.52,137.18 L149.99,139.53 L151.46,141.89 L152.92,144.25 L154.37,146.61 L155.82,148.97 L157.26,151.34 L158.71,153.69 L160.16,156.05 L161.61,158.40 L163.07,160.74 L164.54,163.07 L166.02,165.38 L167.51,167.69 L169.00,169.99 L170.49,172.29 L171.97,174.60 L173.44,176.92 L174.90,179.24 L176.36,181.57 L177.80,183.90 L179.24,186.24 L180.68,188.59 L182.10,190.93 L183.52,193.29 L184.93,195.65 L186.34,198.01 L187.73,200.38 L189.12,202.76 L190.50,205.14 L191.88,207.52 L193.24,209.92 L194.60,212.31 L195.95,214.71 L197.29,217.12 L198.63,219.53 L199.96,221.95 L201.28,224.37 L202.59,226.80 L203.90,229.23 L205.19,231.66 L206.48,234.11 L207.76,236.55 L209.04,239.00" fill="none" stroke="#5aa85c" stroke-width="1.35"/>
<path d="M21.52,5.89 L23.71,7.70 L25.88,9.51 L28.05,11.33 L30.21,13.15 L32.36,14.98 L34.50,16.82 L36.63,18.67 L38.76,20.51 L40.94,22.28 L43.16,24.01 L45.38,25.73 L47.58,27.48 L49.72,29.28 L51.79,31.17 L53.83,33.10 L55.83,35.06 L57.80,37.05 L59.74,39.06 L61.65,41.11 L63.54,43.17 L65.41,45.25 L67.25,47.36 L69.08,49.47 L70.90,51.60 L72.70,53.74 L74.49,55.89 L76.27,58.05 L78.04,60.20 L79.81,62.36 L81.57,64.52 L83.34,66.67 L85.10,68.82 L86.87,70.95 L88.65,73.08 L90.43,75.19 L92.22,77.29 L94.01,79.39 L95.79,81.50 L97.56,83.60 L99.33,85.72 L101.09,87.83 L102.85,89.95 L104.60,92.07 L106.35,94.20 L108.08,96.33 L109.81,98.47 L111.54,100.61 L113.25,102.76 L114.96,104.92 L116.66,107.07 L118.34,109.24 L120.02,111.41 L121.69,113.59 L123.36,115.77 L125.01,117.96 L126.65,120.16 L128.28,122.36 L129.90,124.57 L131.50,126.80 L133.10,129.02 L134.69,131.26 L136.27,133.50 L137.83,135.75 L139.39,138.00 L140.95,140.26 L142.49,142.53 L144.02,144.80 L145.55,147.07 L147.08,149.35 L148.59,151.62 L150.11,153.91 L151.61,156.19 L153.11,158.47 L154.61,160.76 L156.10,163.05 L157.59,165.33 L159.08,167.62 L160.57,169.91 L162.04,172.20 L163.51,174.50 L164.97,176.80 L166.43,179.11 L167.88,181.42 L169.32,183.73 L170.76,186.05 L172.19,188.38 L173.61,190.71 L175.03,193.04 L176.44,195.38 L177.84,197.72 L179.23,200.07 L180.62,202.42 L182.00,204.78 L183.37,207.14 L184.74,209.51 L186.10,211.88 L187.45,214.26 L188.80,216.64 L190.13,219.02 L191.46,221.41 L192.79,223.80 L194.10,226.20 L195.41,228.61 L196.71,231.02 L198.00,233.43 L199.29,235.85 L200.56,238.27 L201.83,240.70 L203.10,243.13 L204.35,245.57 L205.60,248.01 L206.84,250.46 L208.07,252.91 L209.29,255.36" fill="none" stroke="#8a58a2" stroke-width="1.35"/>
</g>
<rect x="47.8" y="30.1" width="135.2" height="137.5" fill="none" stroke="#cdcdd8" stroke-width="0.8" opacity="0.7"/>
<rect x="38" y="169" width="152" height="72" fill="#fff" fill-opacity="0.8"/>
<path d="M43.5,178.1 H66.7" stroke="#c8443f" stroke-width="1.7" stroke-opacity="0.82"/>
<path d="M43.5,195.2 H66.7" stroke="#467ca6" stroke-width="1.7" stroke-opacity="0.82"/>
<path d="M43.5,212.0 H66.7" stroke="#5aa85c" stroke-width="1.7" stroke-opacity="0.82"/>
<path d="M43.5,228.8 H66.7" stroke="#8a58a2" stroke-width="1.7" stroke-opacity="0.82"/>
<text id="t1" x="74.05" y="12.0" font-size="13.2" textLength="24.86" lengthAdjust="spacingAndGlyphs" class="s">ROC</text>
<text id="t2" x="103.82" y="12.0" font-size="13.2" textLength="46.68" lengthAdjust="spacingAndGlyphs" class="s">(Receiver</text>
<text id="t3" x="156.27" y="12.0" font-size="13.2" textLength="51.33" lengthAdjust="spacingAndGlyphs" class="s">Operating</text>
<text id="t4" x="213.20" y="12.0" font-size="13.2" textLength="75.60" lengthAdjust="spacingAndGlyphs" class="s">Characteristic)</text>
<text id="t5" x="295.39" y="12.0" font-size="13.2" textLength="33.10" lengthAdjust="spacingAndGlyphs" class="s">curves</text>
<text id="x1" x="161.63" y="271.9" font-size="12.2" textLength="26.67" lengthAdjust="spacingAndGlyphs" class="s">Signal</text>
<text id="x2" x="192.37" y="271.9" font-size="12.2" textLength="49.20" lengthAdjust="spacingAndGlyphs" class="s">Efficiency</text>
<text id="l0a" x="74.75" y="181.9" font-size="11" textLength="39.59" lengthAdjust="spacingAndGlyphs" class="s l">FastBDT</text>
<text id="l0b" x="118.63" y="181.9" font-size="11" textLength="25.61" lengthAdjust="spacingAndGlyphs" class="s l">(AUC</text>
<text id="l0c" x="147.26" y="181.9" font-size="11" textLength="8.97" lengthAdjust="spacingAndGlyphs" class="s e">=</text>
<text id="l0d" x="159.09" y="181.9" font-size="11" textLength="28.03" lengthAdjust="spacingAndGlyphs" class="s l">0.868)</text>
<text id="l1a" x="74.90" y="198.8" font-size="11" textLength="38.98" lengthAdjust="spacingAndGlyphs" class="s l">XGBoost</text>
<text id="l1b" x="118.46" y="198.8" font-size="11" textLength="25.86" lengthAdjust="spacingAndGlyphs" class="s l">(AUC</text>
<text id="l1c" x="146.95" y="198.8" font-size="11" textLength="9.33" lengthAdjust="spacingAndGlyphs" class="s e">=</text>
<text id="l1d" x="159.17" y="198.8" font-size="11" textLength="27.67" lengthAdjust="spacingAndGlyphs" class="s l">0.866)</text>
<text id="l2a" x="74.91" y="215.8" font-size="11" textLength="37.07" lengthAdjust="spacingAndGlyphs" class="s l">SKLearn</text>
<text id="l2b" x="115.86" y="215.8" font-size="11" textLength="25.84" lengthAdjust="spacingAndGlyphs" class="s l">(AUC</text>
<text id="l2c" x="144.73" y="215.8" font-size="11" textLength="8.98" lengthAdjust="spacingAndGlyphs" class="s e">=</text>
<text id="l2d" x="156.97" y="215.8" font-size="11" textLength="27.91" lengthAdjust="spacingAndGlyphs" class="s l">0.867)</text>
<text id="l3a" x="75.21" y="233.0" font-size="11" textLength="28.13" lengthAdjust="spacingAndGlyphs" class="s l">TMVA</text>
<text id="l3b" x="108.14" y="233.0" font-size="11" textLength="25.75" lengthAdjust="spacingAndGlyphs" class="s l">(AUC</text>
<text id="l3c" x="136.83" y="233.0" font-size="11" textLength="8.99" lengthAdjust="spacingAndGlyphs" class="s e">=</text>
<text id="l3d" x="149.07" y="233.0" font-size="11" textLength="27.48" lengthAdjust="spacingAndGlyphs" class="s l">0.862)</text>
<text id="y1" transform="translate(10.3,184.00) rotate(-90)" font-size="11.6" textLength="55.70" lengthAdjust="spacingAndGlyphs" class="s">Background</text>
<text id="y2" transform="translate(10.3,122.80) rotate(-90)" font-size="11.6" textLength="44.70" lengthAdjust="spacingAndGlyphs" class="s">Rejection</text>
<text x="26.30" y="259.2" font-size="12.2" textLength="13.8" lengthAdjust="spacingAndGlyphs" class="r">0.0</text>
<text x="14.10" y="249.60" font-size="12.2" textLength="13.8" lengthAdjust="spacingAndGlyphs" class="r">0.0</text>
<text x="93.68" y="259.2" font-size="12.2" textLength="13.8" lengthAdjust="spacingAndGlyphs" class="r">0.2</text>
<text x="14.10" y="203.62" font-size="12.2" textLength="13.8" lengthAdjust="spacingAndGlyphs" class="r">0.2</text>
<text x="161.06" y="259.2" font-size="12.2" textLength="13.8" lengthAdjust="spacingAndGlyphs" class="r">0.4</text>
<text x="14.10" y="157.64" font-size="12.2" textLength="13.8" lengthAdjust="spacingAndGlyphs" class="r">0.4</text>
<text x="228.44" y="259.2" font-size="12.2" textLength="13.8" lengthAdjust="spacingAndGlyphs" class="r">0.6</text>
<text x="14.10" y="111.66" font-size="12.2" textLength="13.8" lengthAdjust="spacingAndGlyphs" class="r">0.6</text>
<text x="295.82" y="259.2" font-size="12.2" textLength="13.8" lengthAdjust="spacingAndGlyphs" class="r">0.8</text>
<text x="14.10" y="65.68" font-size="12.2" textLength="13.8" lengthAdjust="spacingAndGlyphs" class="r">0.8</text>
<text x="363.20" y="259.2" font-size="12.2" textLength="13.8" lengthAdjust="spacingAndGlyphs" class="r">1.0</text>
<text x="14.10" y="19.70" font-size="12.2" textLength="13.8" lengthAdjust="spacingAndGlyphs" class="r">1.0</text>
</svg>
</body></html>
